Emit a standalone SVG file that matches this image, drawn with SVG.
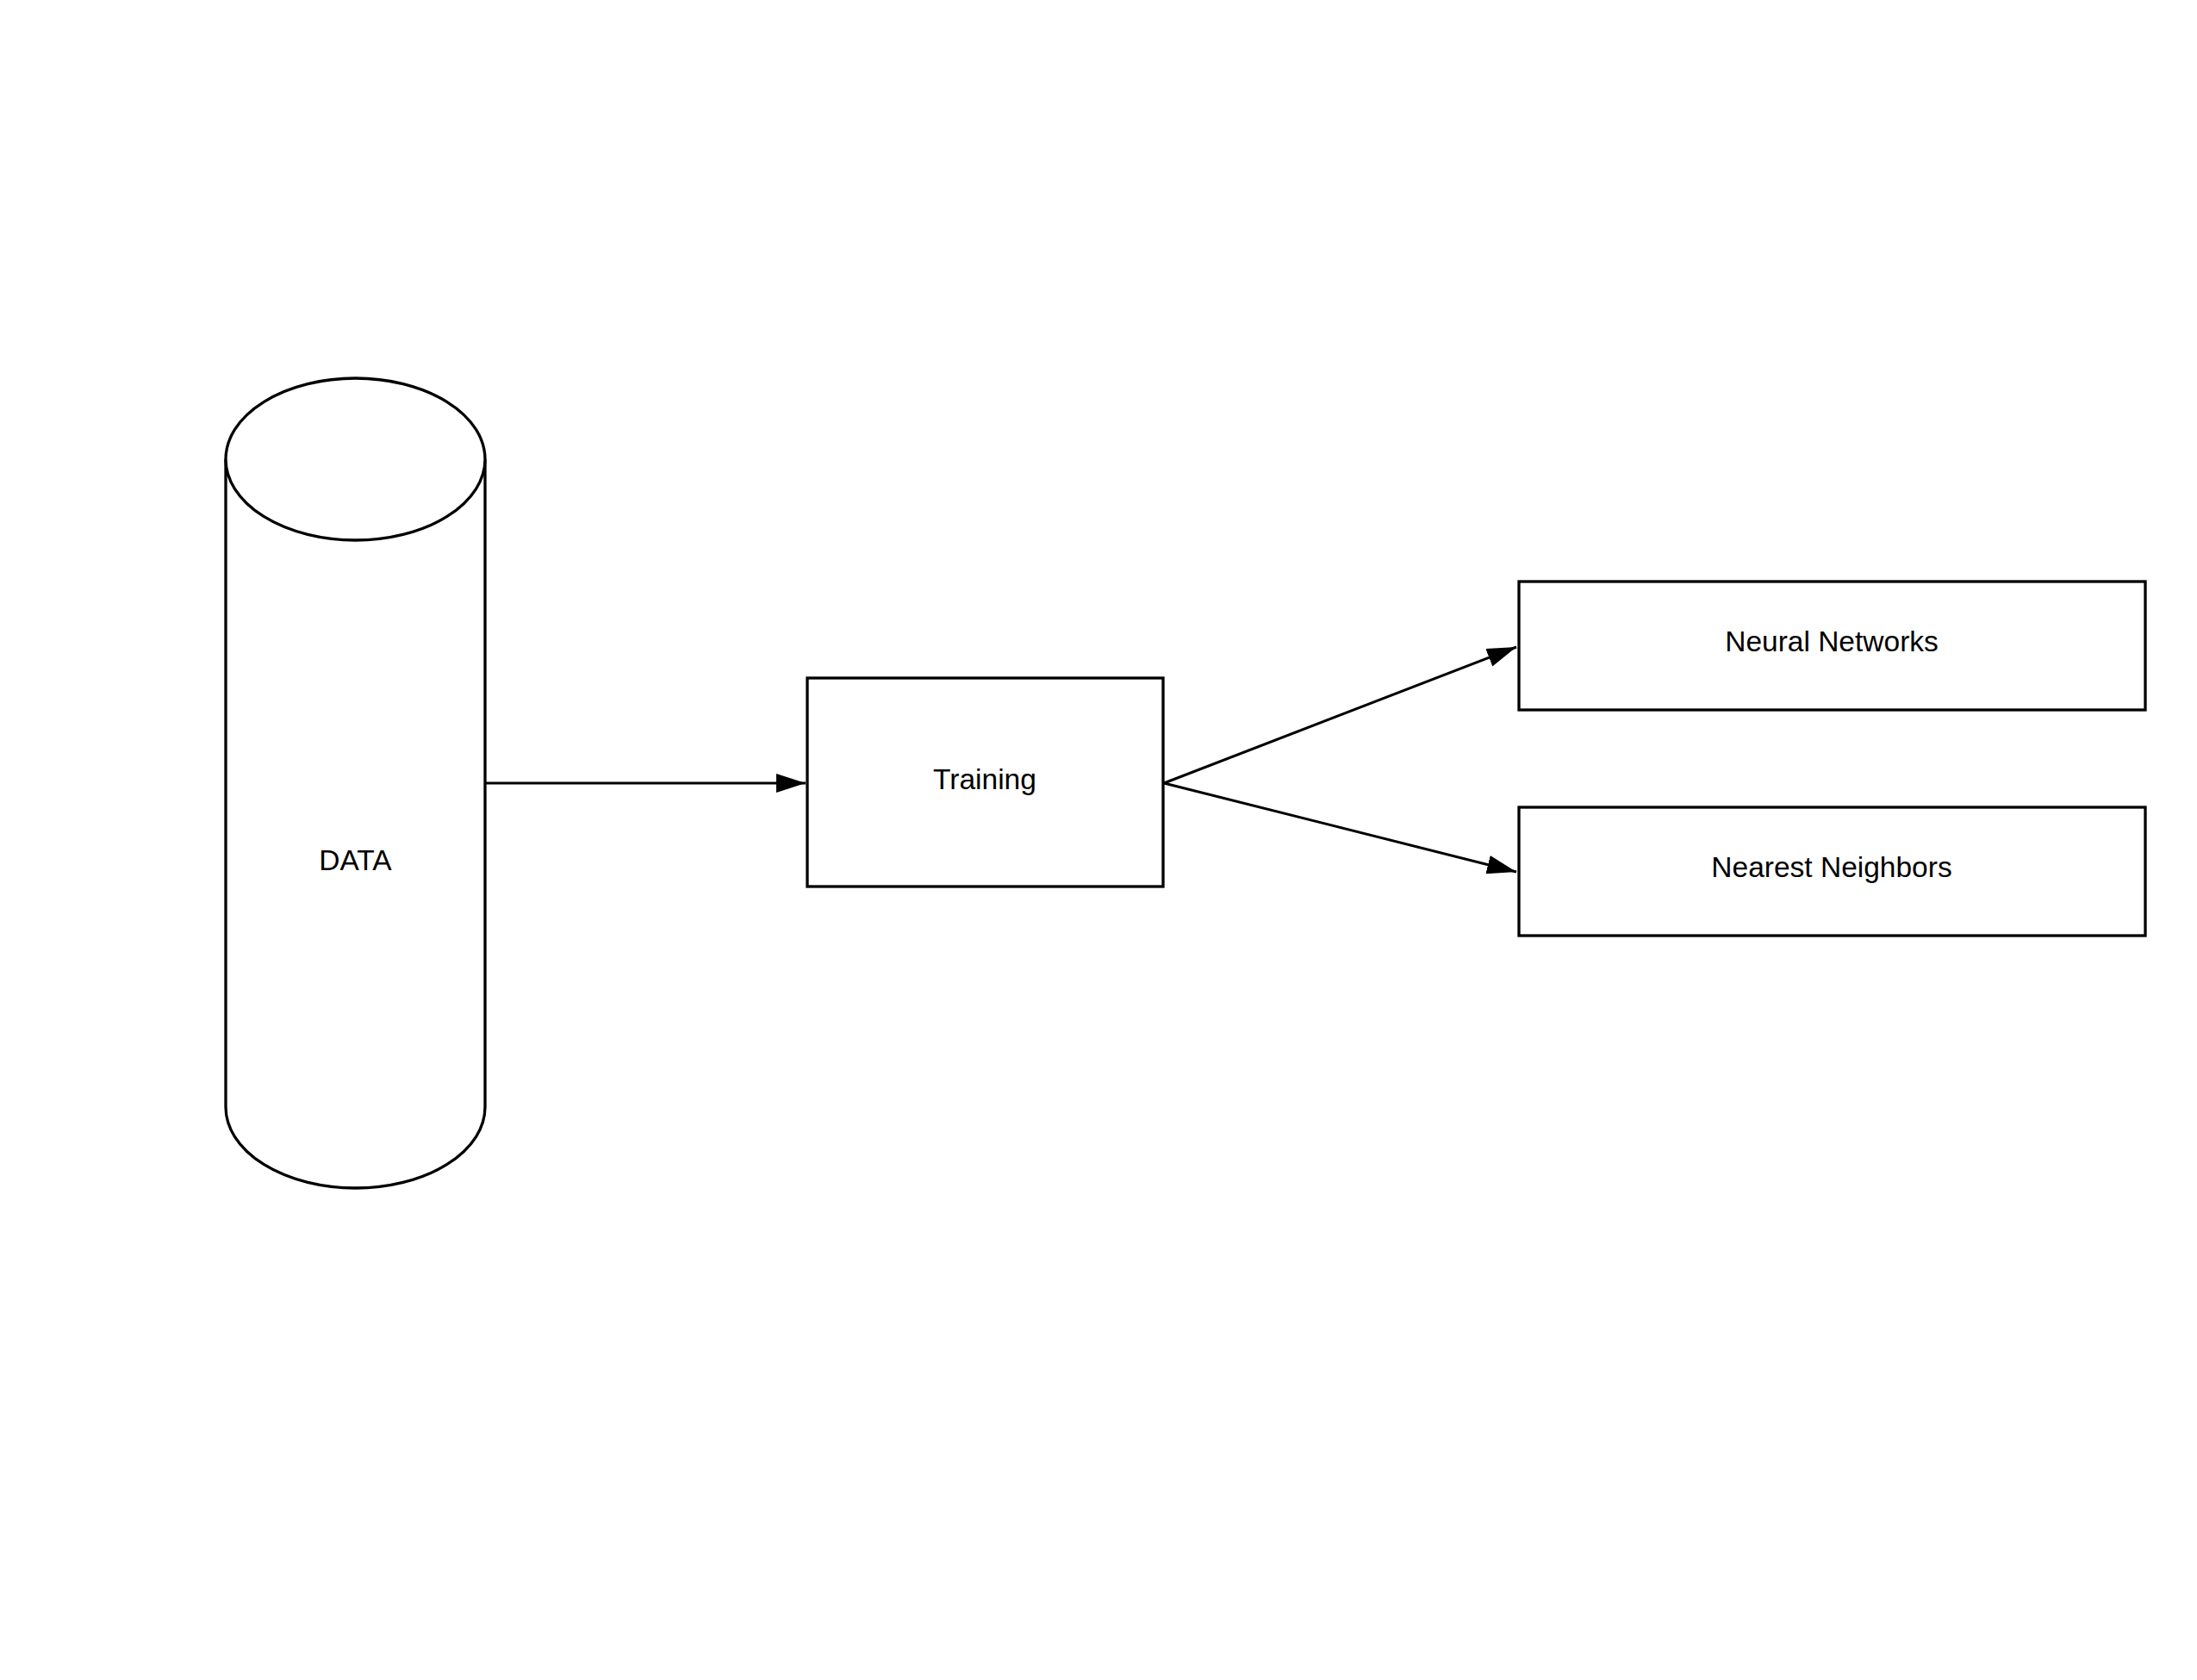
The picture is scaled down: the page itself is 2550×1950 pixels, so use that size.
<svg xmlns="http://www.w3.org/2000/svg" width="2550" height="1950" viewBox="0 0 2550 1950">
<style>
.shape{fill:#fff;stroke:#000;stroke-width:3.3}
.lbl{font-family:"Liberation Sans",Arial,sans-serif;font-size:33.5px;fill:#000;text-anchor:middle;dominant-baseline:central}
.conn{fill:none;stroke:#000;stroke-width:3}
</style>
<defs>
<marker id="arr" markerUnits="userSpaceOnUse" markerWidth="36" markerHeight="24" refX="34" refY="11" orient="auto">
<path d="M0,0 L34,11 L0,22 Z" fill="#000"/>
</marker>
</defs>
<rect width="2550" height="1950" fill="#fff"/>
<g id="data">
<path class="shape" d="M262,533 L262,1285 A150.5,94 0 0 0 563,1285 L563,533"/>
<ellipse class="shape" cx="412.5" cy="533" rx="150.5" ry="94"/>
<text class="lbl" x="412.5" y="998">DATA</text>
</g>
<g id="training">
<rect class="shape" x="937" y="787" width="413" height="242"/>
<text class="lbl" x="1143" y="904">Training</text>
</g>
<g id="neural">
<rect class="shape" x="1763" y="675" width="727" height="149"/>
<text class="lbl" x="2126" y="744">Neural Networks</text>
</g>
<g id="nearest">
<rect class="shape" x="1763" y="937" width="727" height="149"/>
<text class="lbl" x="2126" y="1006">Nearest Neighbors</text>
</g>
<g id="connectors">
<line class="conn" x1="563" y1="909" x2="935" y2="909" marker-end="url(#arr)"/>
<line class="conn" x1="1351" y1="909" x2="1760" y2="751" marker-end="url(#arr)"/>
<line class="conn" x1="1351" y1="909" x2="1760" y2="1012" marker-end="url(#arr)"/>
</g>
</svg>
